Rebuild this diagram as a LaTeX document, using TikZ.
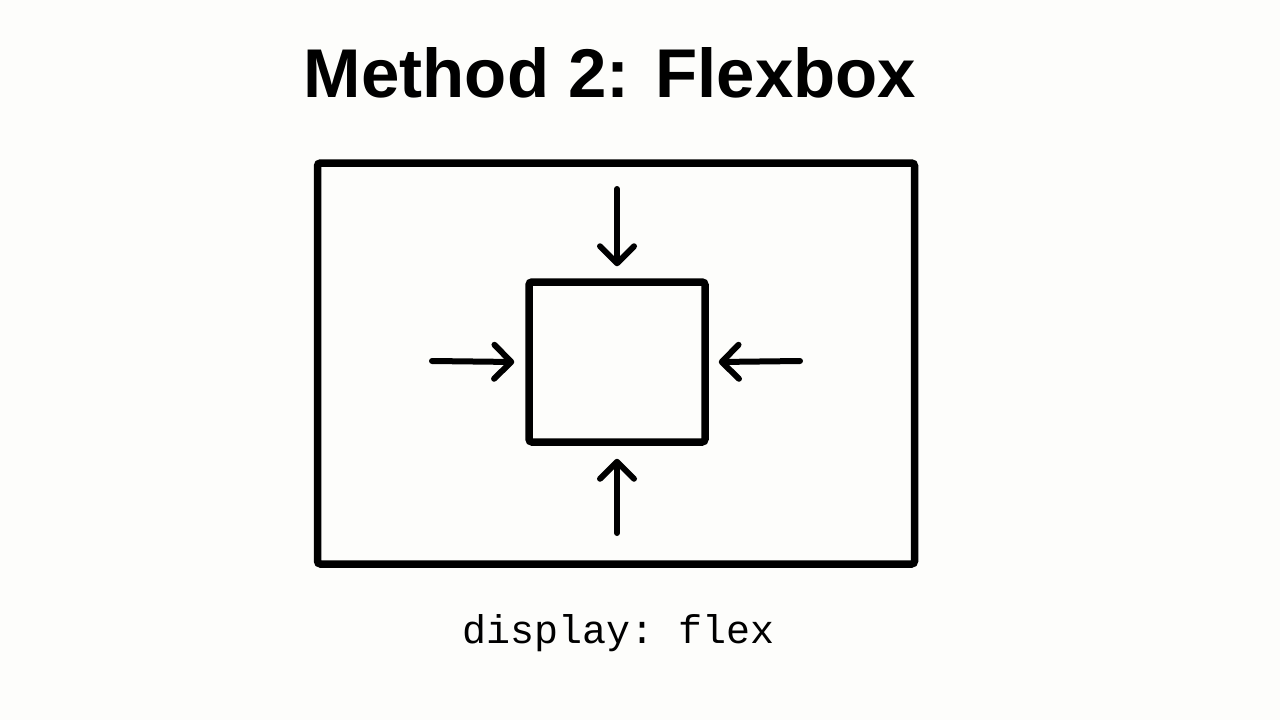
\documentclass[tikz,border=0pt]{standalone}
\usepackage{fontspec}
\setmainfont{Liberation Sans}
\setmonofont{Liberation Mono}
\usetikzlibrary{arrows.meta}
\definecolor{bg}{HTML}{FDFDFB}
\tikzset{
  frame/.style={draw=black, line width=7.5pt, rounded corners=3pt},
  push/.style={draw=black, line width=6pt, line cap=round,
    -{Straight Barb[length=17pt, width=34pt, round]}}
}
\begin{document}
\begin{tikzpicture}[x=1pt,y=-1pt]
\fill[bg] (0,0) rectangle (1280,720);
\useasboundingbox (0,0) rectangle (1280,720);
\node[font=\fontsize{69}{76}\selectfont\bfseries] (title) at (610,73) {Method 2: Flexbox};
\node[frame, minimum width=597pt, minimum height=401pt, inner sep=0pt] (outer) at (616,363.5) {};
\node[frame, minimum width=176pt, minimum height=160pt, inner sep=0pt] (inner) at (617,362) {};
\coordinate (ts) at (617,189);
\coordinate (ls) at (432,361);
\coordinate (rs) at (800,361);
\coordinate (bs) at (617,533);
\draw[push] (ts) -- ([yshift=12pt]inner.north);
\draw[push] (ls) -- ([xshift=-11pt]inner.west);
\draw[push] (rs) -- ([xshift=10pt]inner.east);
\draw[push] (bs) -- ([yshift=-13pt]inner.south);
\node[font=\fontsize{40}{44}\selectfont\ttfamily] (code) at (619,633) {display: flex};
\end{tikzpicture}
\end{document}
